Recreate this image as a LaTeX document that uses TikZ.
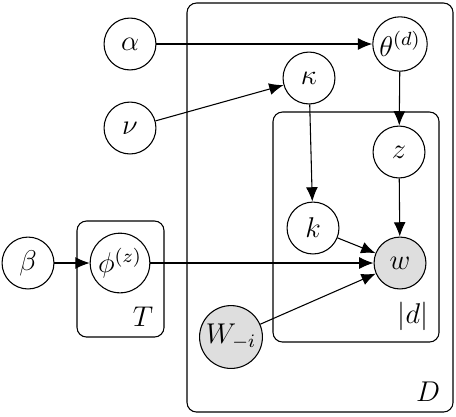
\documentclass[tikz,border=0pt]{standalone}
\usepackage{amsmath}
\usepackage{tikz}
\usetikzlibrary{arrows.meta}
\tikzstyle{var}=[circle,draw,minimum size=21.8pt,inner sep=1pt,font=\large]
\tikzstyle{obs}=[var,fill=black!13]
\tikzstyle{plate}=[draw,rounded corners=4pt]
\tikzstyle{edge}=[-{Latex[length=6pt,width=5pt]}]
\newcommand{\px}{0.42pt}

\begin{document}
\begin{tikzpicture}[x=\px,y=-\px,line width=0.45pt]
    \useasboundingbox (0,0) rectangle (456,416);
    % plates
    \draw[plate] (187,3) rectangle (453,412);
    \draw[plate] (273,112) rectangle (439,342);
    \draw[plate] (77,221) rectangle (164,337);
    \node[font=\large] at (428,392) {$D$};
    \node[font=\large] at (413,316) {$|d|$};
    \node[font=\large] at (143,317) {$T$};
    % variables
    \node[var] (alpha) at (130,44)  {$\alpha$};
    \node[var] (nu)    at (130,128) {$\nu$};
    \node[var] (beta)  at (28,263)  {$\beta$};
    \node[var] (phi)   at (120,263) {$\phi^{(z)}$};
    \node[var] (theta) at (400,44)  {$\theta^{(d)}$};
    \node[var] (kappa) at (309,78)  {$\kappa$};
    \node[var] (z)     at (399,152) {$z$};
    \node[var] (k)     at (313,228) {$k$};
    \node[obs] (w)     at (400,263) {$w$};
    \node[obs,minimum size=26pt] (W) at (231,337) {$W_{-i}$};
    % edges
    \draw[edge] (alpha) -- (theta);
    \draw[edge] (nu) -- (kappa);
    \draw[edge] (beta) -- (phi);
    \draw[edge] (theta) -- (z);
    \draw[edge] (z) -- (w);
    \draw[edge] (kappa) -- (k);
    \draw[edge] (k) -- (w);
    \draw[edge] (phi) -- (w);
    \draw[edge] (W) -- (w);
\end{tikzpicture}
\end{document}
